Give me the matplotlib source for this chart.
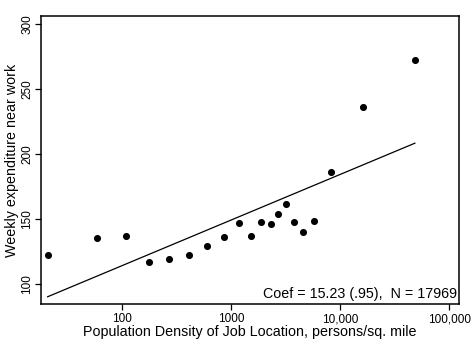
import numpy as np
import matplotlib
matplotlib.use("Agg")
import matplotlib.pyplot as plt
from matplotlib.ticker import FixedLocator, NullLocator

plt.rcParams['font.family'] = ['Liberation Sans', 'DejaVu Sans']

density = [20.6, 58.3, 107, 174, 267, 407, 596, 847, 1180, 1521, 1866, 2290,
           2687, 3164, 3745, 4497, 5715, 8187, 16080, 48200]
expenditure = [122.5, 135.6, 137.2, 117.4, 119.7, 122.5, 129.2, 136.2, 146.9, 136.9,
               147.9, 146.6, 154.1, 161.5, 147.9, 140.0, 148.7, 186.2, 236.4, 272.3]
fit_intercept = 44.3
fit_slope = 15.23

x_ticks = [100, 1000, 10000, 100000]
x_ticklabels = ["100", "1000", "10,000", "100,000"]
y_ticks = [100, 150, 200, 250, 300]

fig = plt.figure(figsize=(4.74, 3.43), dpi=100)
ax = fig.add_axes([0.0865, 0.1137, 0.8815, 0.8397])

ax.scatter(density, expenditure, s=26, color='black', zorder=3, linewidths=0)
xs = np.logspace(np.log10(min(density)), np.log10(max(density)), 100)
ax.plot(xs, fit_intercept + fit_slope * np.log(xs), color='black', lw=0.9)

ax.set_xscale('log')
ax.set_xlim(17.9, 122000)
ax.set_ylim(84.8, 306.4)
ax.xaxis.set_major_locator(FixedLocator(x_ticks))
ax.xaxis.set_minor_locator(NullLocator())
ax.set_xticklabels(x_ticklabels)
ax.set_yticks(y_ticks)
for lbl in ax.get_yticklabels():
    lbl.set_rotation(90)
    lbl.set_va('center')
ax.tick_params(axis='both', direction='out', length=4, width=0.9, labelsize=8.5, pad=2.5)
ax.tick_params(axis='y', pad=1.5)
for s in ax.spines.values():
    s.set_linewidth(1.1)

ax.set_xlabel("Population Density of Job Location, persons/sq. mile", fontsize=10.3)
ax.set_ylabel("Weekly expenditure near work", fontsize=10.3)
ax.xaxis.label.set_va('center')
ax.yaxis.label.set_va('center')
ax.xaxis.set_label_coords(0.5, -0.096)
ax.yaxis.set_label_coords(-0.069, 0.5)
ax.text(0.995, 0.01, "Coef = 15.23 (.95),  N = 17969", transform=ax.transAxes,
        ha='right', va='bottom', fontsize=10.3)

fig.savefig("out.png", dpi=100)
